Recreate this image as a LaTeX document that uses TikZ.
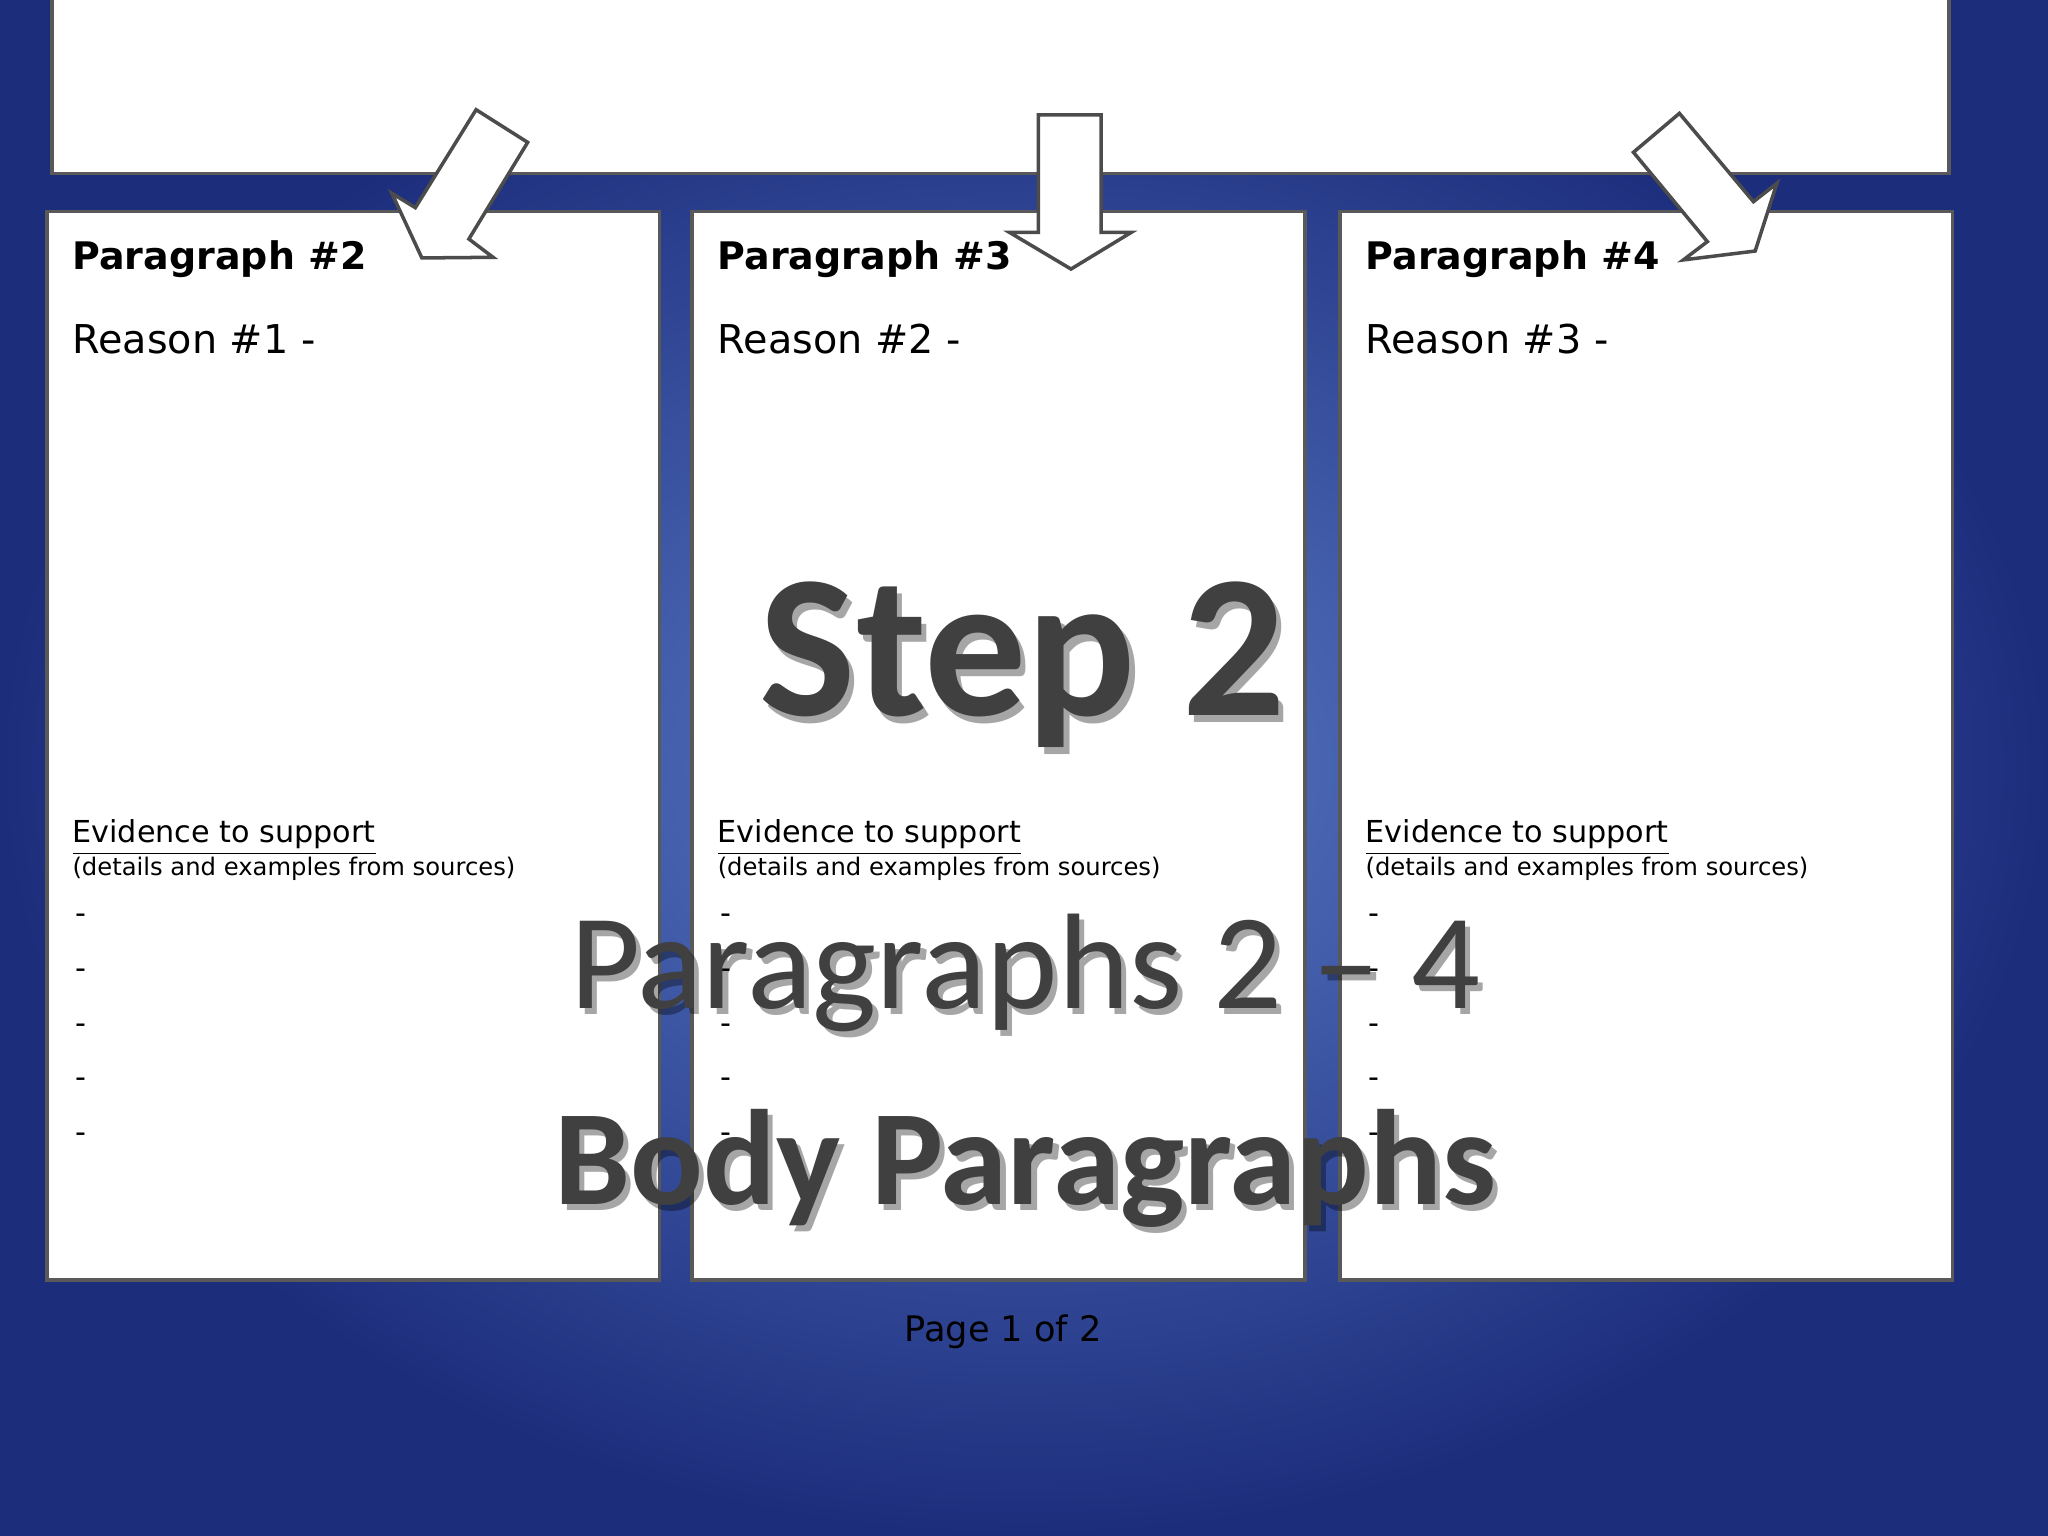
\documentclass[tikz,border=0pt]{standalone}
\usepackage{fontspec}
\setmainfont{Carlito}
\newfontfamily\panelfont{DejaVu Sans}
\usetikzlibrary{calc}
\definecolor{bgin}{HTML}{5A7BC6}
\definecolor{bgout}{HTML}{1C2D7C}
\definecolor{txt}{HTML}{404040}
\tikzset{
  panel/.style={draw=gray!70!black,line width=1pt,fill=white},
  arr/.style={draw=gray!60!black,line width=1pt,fill=white},
  ptitle/.style={anchor=base west,font=\panelfont\bfseries\fontsize{10.8}{13}\selectfont,inner sep=0pt},
  preason/.style={anchor=base west,font=\panelfont\fontsize{11.3}{13}\selectfont,inner sep=0pt},
  pev/.style={anchor=base west,font=\panelfont\fontsize{8.6}{10}\selectfont,inner sep=0pt},
  psmall/.style={anchor=base west,font=\panelfont\fontsize{6.9}{8}\selectfont,inner sep=0pt},
  big/.style={anchor=base,text=txt,inner sep=0pt},
}
\newcommand{\shtext}[4]{%
  \node[big,text=black,opacity=0.35,font=#3] at ($(#1)+(4,5)$) {#4};
  \node[big,font=#3] (#2) at (#1) {#4};}
\begin{document}
\begin{tikzpicture}[x=0.01306cm,y=-0.01306cm]
\useasboundingbox (0,0) rectangle (1568,1176);
\shade[inner color=bgin,outer color=bgout] (0,0) rectangle (1568,1176);
\draw[panel] (40,-5) rectangle (1492,133);
\draw[panel] (36,162) rectangle (505,980);
\draw[panel] (530,162) rectangle (999,980);
\draw[panel] (1026,162) rectangle (1495,980);
% arrows
\draw[arr] (364.5,84) -- (404,109) -- (359,183) -- (377.5,197) -- (323,197.5) -- (300,148) -- (318,159) -- cycle;
\draw[arr] (795,88) -- (843,88) -- (843,178) -- (866,178) -- (820,206) -- (773,178) -- (795,178) -- cycle;
\draw[arr] (1285.8,86.8) -- (1250.6,116.6) -- (1307.2,185) -- (1288.8,199) -- (1343.8,192.2) -- (1360.4,140.4) -- (1342.5,154.4) -- cycle;
% panel texts
\foreach \x/\p/\r [count=\i] in {55/2/1,549/3/2,1045/4/3}{
  \node[ptitle] (t\i) at (\x,206) {Paragraph \#\p};
  \node[preason] (r\i) at (\x,271) {Reason \#\r\ -};
  \node[pev] (e\i) at (\x,645) {\underline{Evidence to support}};
  \node[psmall] (s\i) at (\x,670) {(details and examples from sources)};
  \foreach \yy in {707,749,791,833,875}{\node[pev] at (\x+2,\yy) {-};}
}
\node[anchor=base,font=\panelfont\fontsize{10}{12}\selectfont,inner sep=0pt] (page) at (768,1027) {Page 1 of 2};
% big texts
\shtext{783,548}{step}{\bfseries\fontsize{58}{66}\selectfont}{Step 2}
\shtext{785,772}{sub}{\fontsize{38.7}{44}\selectfont}{Paragraphs 2 – 4}
\shtext{785,922}{body}{\bfseries\fontsize{38.6}{44}\selectfont}{Body Paragraphs}
\end{tikzpicture}
\end{document}
